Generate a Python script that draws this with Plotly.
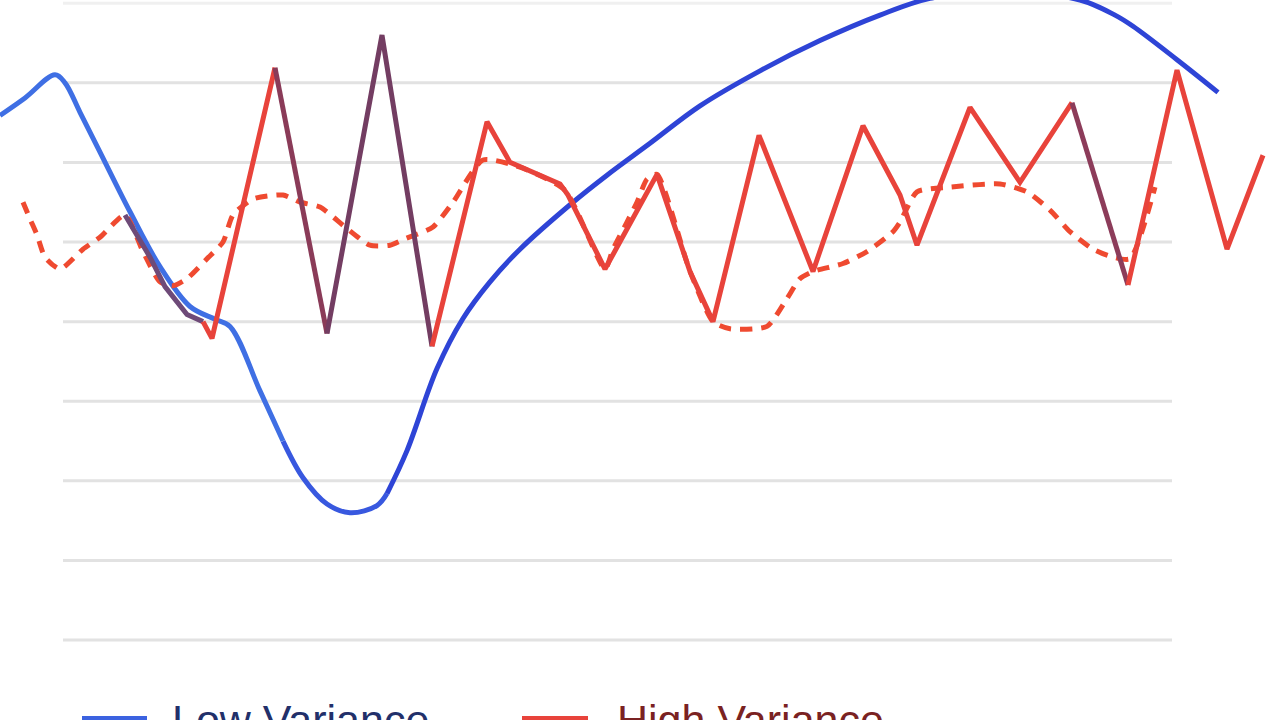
import plotly.graph_objects as go

# ---- data (x: time step, y: value) ----
low_x = [0, 2.5, 5.5, 6.5, 8, 10, 13, 16, 19, 21.5, 23, 26, 28.3, 30.3, 32.7, 35, 37.7, 38.7,
         40.7, 43.7, 46.3, 49, 52, 57.3, 60.7, 65, 70, 76, 82, 88, 93, 100, 108, 111.5,
         113.3, 117.7, 121.8]
low_y = [65.9, 68.1, 71.0, 70.0, 66.3, 61.3, 53.8, 46.9, 41.9, 40.3, 39.4, 31.3, 25.0, 20.4, 17.1,
         16.0, 16.9, 18.4, 23.8, 34.1, 40.4, 45.0, 49.1, 55.0, 58.4, 62.4, 67.1, 71.5, 75.3,
         78.5, 80.6, 81.5, 80.4, 78.5, 77.1, 72.9, 68.8]

high_x = [12.5, 15, 16.5, 18.7, 20.3, 21.2, 27.5, 32.7, 38.2, 43.2, 48.7, 51, 56, 56.8, 60.5,
          65.7, 69, 71.3, 75.9, 81.3, 86.3, 90, 91.7, 97, 102, 107.2, 112.8, 117.7, 122.7, 126.3]
high_y = [53.4, 48.1, 44.4, 40.9, 40.0, 37.9, 71.9, 38.5, 76.0, 36.9, 65.1, 60.0, 57.3, 55.9, 46.6,
          58.5, 46.3, 40.0, 63.4, 46.3, 64.6, 55.9, 49.6, 66.9, 57.5, 67.5, 44.6, 71.6, 49.1, 60.9]

trend_x = [2.3, 3.0, 3.7, 4.5, 6.0, 8.3, 10, 12.5, 14.3, 16, 17.3, 18.7, 20.7, 22.3, 23.3, 25.3,
           28.3, 30, 32, 34.5, 37, 39, 40.5, 43.3, 45.3, 48.3, 52, 56.5, 60.5, 61.3, 62.7, 63.7,
           64.7, 65.7, 69, 71.3, 73, 76.7, 78.7, 80, 81.3, 84.3, 86.7, 89.3, 90, 91.7, 95, 100,
           102.7, 105, 107, 109.3, 111.3, 113, 115.5]
trend_y = [55.0, 52.9, 50.9, 48.1, 46.6, 49.1, 50.6, 53.4, 48.8, 45.0, 44.5, 45.4, 47.9, 50.0, 53.4,
           55.4, 55.9, 55.0, 54.4, 51.9, 49.6, 49.6, 50.4, 51.9, 55.0, 60.3, 59.4, 56.5, 46.6, 49.1,
           52.5, 55.0, 57.9, 58.5, 46.3, 40.0, 39.1, 39.4, 42.9, 45.4, 46.3, 47.3, 48.8, 51.3, 52.5,
           56.3, 56.9, 57.3, 56.3, 54.0, 51.3, 49.1, 48.1, 47.9, 56.9]

grid_values = [0, 10, 20, 30, 40, 50, 60, 70, 80]
legend_labels = ["Low Variance", "High Variance"]

# ---- styling ----
# (first index, last index inclusive, colour)
BLUE_SEGS = [(0, 12, "#3f6fe4"), (12, 17, "#3858df"), (17, len(low_x) - 1, "#2e44d6")]
RED = "#e8433b"
RED_SEGS = [(0, 4, "#6e4a78"), (4, 6, RED), (6, 7, "#8a3b58"), (7, 9, "#733d62"),
            (9, 25, RED), (25, 26, "#8c3c5a"), (26, len(high_x) - 1, RED)]
DASH = "#ef4a30"

fig = go.Figure()

for a, b, c in BLUE_SEGS:
    fig.add_trace(go.Scatter(x=low_x[a:b + 1], y=low_y[a:b + 1], mode="lines",
                             line=dict(color=c, width=5, shape="spline", smoothing=1.0),
                             showlegend=False, hoverinfo="skip"))

fig.add_trace(go.Scatter(x=trend_x, y=trend_y, mode="lines",
                         line=dict(color=DASH, width=5, dash="12px,9px", shape="spline", smoothing=0.6),
                         showlegend=False, hoverinfo="skip"))

for a, b, c in RED_SEGS:
    fig.add_trace(go.Scatter(x=high_x[a:b + 1], y=high_y[a:b + 1],
                             mode="lines", line=dict(color=c, width=5),
                             showlegend=False, hoverinfo="skip"))

shapes = []
for g in grid_values:
    shapes.append(dict(type="line", xref="paper", yref="y", x0=63 / 1280, x1=1172 / 1280, y0=g, y1=g,
                       line=dict(color="#f0f0f0" if g == 80 else "#e2e2e2", width=3), layer="below"))

# legend (manual, bottom, partly cut off like the reference)
H = 660.0
def py(p):
    return (H - p) / H

legend_items = [(82, 147, 170, "#3b62e0", "#22306a"), (522, 588, 615, "#e8433b", "#7a2222")]
annotations = []
for (x0, x1, tx, bc, tc), lab in zip(legend_items, legend_labels):
    shapes.append(dict(type="rect", xref="paper", yref="paper", x0=x0 / 1280, x1=x1 / 1280,
                       y0=py(726), y1=py(716), fillcolor=bc, line=dict(width=0)))
    annotations.append(dict(text=lab, xref="paper", yref="paper", x=tx / 1280, y=py(694),
                            xanchor="left", yanchor="top", showarrow=False,
                            font=dict(size=43, color=tc, family="Liberation Sans, Arial, sans-serif")))

fig.update_layout(
    width=1280, height=720,
    margin=dict(l=0, r=0, t=0, b=60),
    paper_bgcolor="white", plot_bgcolor="white",
    xaxis=dict(range=[0, 128], visible=False, fixedrange=True),
    yaxis=dict(range=[-2.5, 80.4], visible=False, fixedrange=True),
    shapes=shapes, annotations=annotations,
    showlegend=False,
)

fig.write_html("out.html", config={"displayModeBar": False},
               post_script="document.body.style.margin='0';")
